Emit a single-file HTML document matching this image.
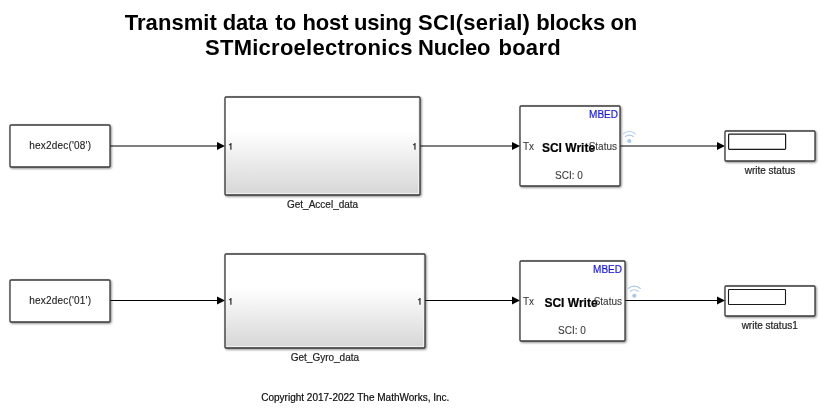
<!DOCTYPE html>
<html>
<head>
<meta charset="utf-8">
<title>Transmit data to host using SCI(serial) blocks</title>
<style>
  html, body { margin: 0; padding: 0; background: #ffffff; }
  body { width: 825px; height: 415px; overflow: hidden; font-family: "Liberation Sans", sans-serif; }
  svg { display: block; position: absolute; left: 0; top: 0; will-change: transform; }
  text { font-family: "Liberation Sans", sans-serif; }
  .t10 { font-size: 10px; fill: #222; stroke: #222; stroke-width: 0.2px; }
  .port { font-size: 10px; fill: #222; stroke: #222; stroke-width: 0.18px; }
  .title { font-size: 22px; font-weight: bold; fill: #000000; }
  .pl { font-size: 10px; fill: #3a3a3a; stroke: #3a3a3a; stroke-width: 0.1px; }
  .sci { font-size: 12px; font-weight: bold; fill: #000; stroke: #000; stroke-width: 0.2px; }
  .mbed { font-size: 10px; fill: #1616e2; stroke: #1616e2; stroke-width: 0.18px; }
</style>
</head>
<body>
<svg width="825" height="415" viewBox="0 0 825 415">
  <defs>
    <linearGradient id="subg" x1="0" y1="0" x2="0" y2="1">
      <stop offset="0" stop-color="#ffffff"/>
      <stop offset="0.35" stop-color="#ffffff"/>
      <stop offset="1" stop-color="#d6d6d6"/>
    </linearGradient>
    <filter id="sh" x="-10%" y="-10%" width="130%" height="130%">
      <feGaussianBlur in="SourceAlpha" stdDeviation="0.9"/>
      <feOffset dx="1.1" dy="1.1" result="o"/>
      <feComponentTransfer><feFuncA type="linear" slope="0.47"/></feComponentTransfer>
      <feMerge><feMergeNode/><feMergeNode in="SourceGraphic"/></feMerge>
    </filter>
    <path id="one" d="M-0.6,0 H0.6 V-6.75 H-0.3 C-0.55,-5.95 -1.15,-5.5 -2.0,-5.3 V-4.45 C-1.4,-4.55 -0.95,-4.75 -0.6,-5.05 Z" fill="#262626"/>
    <g id="wifi" fill="none" stroke="#a9c9eb" stroke-linecap="round">
      <path d="M-6.1,-7.2 A9,9 0 0 1 6.1,-7.2" stroke-width="1.05"/>
      <path d="M-4.0,-4.3 A5.8,5.8 0 0 1 4.0,-4.3" stroke-width="1.05"/>
      <circle cx="0" cy="0" r="2.05" fill="#a6c7ea" stroke="none"/>
    </g>
  </defs>

  <!-- Title -->
  <text class="title" x="124.7" y="30" style="letter-spacing:0.07px">Transmit</text>
  <text class="title" x="222.7" y="30" style="letter-spacing:-0.15px">data</text>
  <text class="title" x="275.2" y="30" style="letter-spacing:0.3px">to</text>
  <text class="title" x="302.4" y="30" style="letter-spacing:-0.09px">host</text>
  <text class="title" x="353.9" y="30" style="letter-spacing:-0.15px">using</text>
  <text class="title" x="418.1" y="30" style="letter-spacing:0.3px">SCI(serial)</text>
  <text class="title" x="536.2" y="30" style="letter-spacing:-0.15px">blocks</text>
  <text class="title" x="610.5" y="30" style="letter-spacing:-0.15px">on</text>
  <text class="title" x="205.0" y="55" style="letter-spacing:0.26px">STMicroelectronics</text>
  <text class="title" x="417.9" y="55" style="letter-spacing:-0.15px">Nucleo</text>
  <text class="title" x="498.4" y="55" style="letter-spacing:0.3px">board</text>

  <!-- ===== Row 1 ===== -->
  <!-- signal lines -->
  <g stroke="#000000" stroke-width="1" fill="none">
    <line x1="110" y1="146" x2="218" y2="146"/>
    <line x1="420" y1="146" x2="513" y2="146"/>
    <line x1="620" y1="146" x2="718" y2="146"/>
    <line x1="110" y1="300.5" x2="218" y2="300.5"/>
    <line x1="425" y1="300.5" x2="513" y2="300.5"/>
    <line x1="625" y1="300.5" x2="718" y2="300.5"/>
  </g>
  <!-- arrow heads -->
  <g fill="#000000">
    <polygon points="217,142 225,146 217,150"/>
    <polygon points="512,142 520,146 512,150"/>
    <polygon points="717,142 725,146 717,150"/>
    <polygon points="217,296.5 225,300.5 217,304.5"/>
    <polygon points="512,296.5 520,300.5 512,304.5"/>
    <polygon points="717,296.5 725,300.5 717,304.5"/>
  </g>

  <!-- Constant 1 -->
  <rect x="10" y="125" width="100" height="42" fill="#ffffff" stroke="#383838" stroke-width="1.3" rx="1" filter="url(#sh)"/>
  <text class="t10" x="60.2" y="148.5" text-anchor="middle" style="letter-spacing:0.21px;stroke-width:0.12px">hex2dec('08')</text>

  <!-- Subsystem 1 -->
  <rect x="225" y="97" width="195" height="98" fill="url(#subg)" stroke="#383838" stroke-width="1.3" rx="1" filter="url(#sh)"/>
  <path d="M226,193.5 H418.5 V98" fill="none" stroke="#f0f0f0" stroke-width="1"/>
  <use href="#one" x="230.9" y="149.75"/>
  <use href="#one" x="414.95" y="149.75"/>
  <text class="t10" x="322.6" y="208.1" text-anchor="middle">Get_Accel_data</text>

  <!-- SCI Write 1 -->
  <rect x="520" y="106" width="100" height="80" fill="#ffffff" stroke="#383838" stroke-width="1.3" rx="1" filter="url(#sh)"/>
  <text class="mbed" x="618" y="118" text-anchor="end">MBED</text>
  <text class="pl" x="523" y="149.5">Tx</text>
  <text class="sci" x="568.5" y="152" text-anchor="middle">SCI Write</text>
  <text class="pl" x="617" y="149.5" text-anchor="end">Status</text>
  <text class="pl" x="569" y="178.5" text-anchor="middle">SCI: 0</text>
  <use href="#wifi" x="629.3" y="141.0"/>

  <!-- Display 1 -->
  <rect x="725" y="131" width="90" height="30" fill="#ffffff" stroke="#383838" stroke-width="1.3" rx="1" filter="url(#sh)"/>
  <rect x="728.6" y="134.1" width="57" height="15.2" rx="0.8" fill="#ffffff" stroke="#1a1a1a" stroke-width="1.2"/>
  <text class="t10" x="770" y="174.2" text-anchor="middle">write status</text>

  <!-- ===== Row 2 ===== -->
  <!-- Constant 2 -->
  <rect x="10" y="280" width="100" height="42" fill="#ffffff" stroke="#383838" stroke-width="1.3" rx="1" filter="url(#sh)"/>
  <text class="t10" x="60.2" y="303.5" text-anchor="middle" style="letter-spacing:0.21px;stroke-width:0.12px">hex2dec('01')</text>

  <!-- Subsystem 2 -->
  <rect x="225" y="254" width="200" height="94" fill="url(#subg)" stroke="#383838" stroke-width="1.3" rx="1" filter="url(#sh)"/>
  <path d="M226,346.5 H423.5 V255" fill="none" stroke="#f0f0f0" stroke-width="1"/>
  <use href="#one" x="230.9" y="304.75"/>
  <use href="#one" x="419.95" y="304.75"/>
  <text class="t10" x="324.9" y="361.1" text-anchor="middle">Get_Gyro_data</text>

  <!-- SCI Write 2 -->
  <rect x="520" y="261" width="105" height="80" fill="#ffffff" stroke="#383838" stroke-width="1.3" rx="1" filter="url(#sh)"/>
  <text class="mbed" x="622" y="273" text-anchor="end">MBED</text>
  <text class="pl" x="523" y="304.5">Tx</text>
  <text class="sci" x="571" y="307" text-anchor="middle">SCI Write</text>
  <text class="pl" x="622" y="304.5" text-anchor="end">Status</text>
  <text class="pl" x="572" y="333.8" text-anchor="middle">SCI: 0</text>
  <use href="#wifi" x="634.3" y="295.7"/>

  <!-- Display 2 -->
  <rect x="725" y="286" width="90" height="30" fill="#ffffff" stroke="#383838" stroke-width="1.3" rx="1" filter="url(#sh)"/>
  <rect x="728.5" y="289.5" width="57" height="15" rx="0.8" fill="#ffffff" stroke="#1a1a1a" stroke-width="1.1"/>
  <text class="t10" x="769.7" y="328.8" text-anchor="middle">write status1</text>

  <!-- Copyright -->
  <text class="t10" x="355.3" y="401.2" text-anchor="middle" style="fill:#000">Copyright 2017-2022 The MathWorks, Inc.</text>
</svg>
</body>
</html>
